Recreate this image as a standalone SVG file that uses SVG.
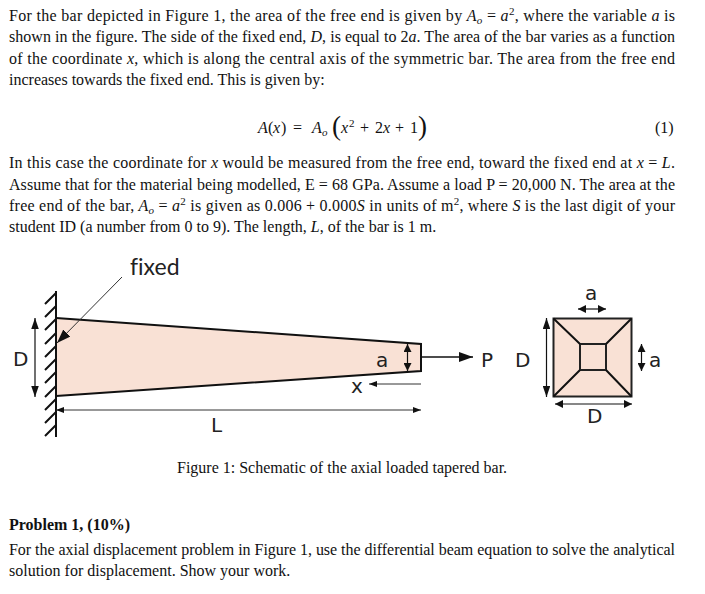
<svg xmlns="http://www.w3.org/2000/svg" width="705" height="594" viewBox="0 0 705 594">
<style>
text{fill:#111}
.t{font:16px "Liberation Serif",serif}
.i{font-style:italic}
.s{font-size:11px}
.b{font-weight:bold}
.g{font:23px "Lato","Open Sans",sans-serif;fill:#222;font-variant-ligatures:none}
.d{font:20px "DejaVu Sans",sans-serif;fill:#222}
.bar{fill:#f9e1d5;stroke:none}
.ln{stroke:#111;stroke-width:2;fill:none}
.sq{fill:#f9e1d5;stroke:#222;stroke-width:2}
.ar{stroke:#111;stroke-width:1.2;fill:none;marker-end:url(#h);marker-start:url(#hs)}
.ar3{stroke:#111;stroke-width:1.2;fill:none;marker-end:url(#m);marker-start:url(#ms)}
.ar1{stroke:#333;stroke-width:1;fill:none;marker-end:url(#n)}
.ar2{stroke:#111;stroke-width:1.6;fill:none;marker-end:url(#hb)}
</style>
<defs>
<marker id="h" viewBox="0 0 10 8" refX="10" refY="4" markerWidth="11" markerHeight="7.5" markerUnits="userSpaceOnUse" orient="auto" preserveAspectRatio="none"><path d="M0 0L10 4L0 8z" fill="#111"/></marker>
<marker id="hs" viewBox="0 0 10 8" refX="0" refY="4" markerWidth="11" markerHeight="7.5" markerUnits="userSpaceOnUse" orient="auto" preserveAspectRatio="none"><path d="M10 0L0 4L10 8z" fill="#111"/></marker>
<marker id="m" viewBox="0 0 10 8" refX="10" refY="4" markerWidth="8" markerHeight="8" markerUnits="userSpaceOnUse" orient="auto" preserveAspectRatio="none"><path d="M0 0L10 4L0 8z" fill="#111"/></marker>
<marker id="ms" viewBox="0 0 10 8" refX="0" refY="4" markerWidth="8" markerHeight="8" markerUnits="userSpaceOnUse" orient="auto" preserveAspectRatio="none"><path d="M10 0L0 4L10 8z" fill="#111"/></marker>
<marker id="n" viewBox="0 0 10 8" refX="10" refY="4" markerWidth="8" markerHeight="6" markerUnits="userSpaceOnUse" orient="auto" preserveAspectRatio="none"><path d="M0 0L10 4L0 8z" fill="#111"/></marker>
<marker id="ns" viewBox="0 0 10 8" refX="0" refY="4" markerWidth="8" markerHeight="6" markerUnits="userSpaceOnUse" orient="auto" preserveAspectRatio="none"><path d="M10 0L0 4L10 8z" fill="#111"/></marker>
<marker id="hb" viewBox="0 0 10 8" refX="10" refY="4" markerWidth="14" markerHeight="10" markerUnits="userSpaceOnUse" orient="auto" preserveAspectRatio="none"><path d="M0 0L10 4L0 8z" fill="#111"/></marker>
</defs>

<g id="body-text" class="t">
<text x="9" y="21" textLength="666" lengthAdjust="spacing">For the bar depicted in Figure 1, the area of the free end is given by <tspan class="i">A</tspan><tspan class="i s" dy="3">o</tspan><tspan dy="-3"> = </tspan><tspan class="i">a</tspan><tspan class="s" dy="-6">2</tspan><tspan dy="6">, where the variable </tspan><tspan class="i">a</tspan> is</text>
<text x="9" y="42" textLength="666" lengthAdjust="spacing">shown in the figure. The side of the fixed end, <tspan class="i">D</tspan>, is equal to 2<tspan class="i">a</tspan>. The area of the bar varies as a function</text>
<text x="9" y="64" textLength="666" lengthAdjust="spacing">of the coordinate <tspan class="i">x</tspan>, which is along the central axis of the symmetric bar.  The area from the free end</text>
<text x="9" y="85">increases towards the fixed end. This is given by:</text>
<text y="133"><tspan x="258" class="i">A</tspan><tspan x="268">(</tspan><tspan x="273" class="i">x</tspan><tspan x="281">)</tspan><tspan x="293">=</tspan><tspan x="312" class="i">A</tspan><tspan x="322" class="i s" dy="3">o</tspan><tspan x="332" y="135" font-size="27" font-weight="100">(</tspan><tspan x="341" y="133" class="i">x</tspan><tspan x="349" y="127" class="s">2</tspan><tspan x="360" y="133">+</tspan><tspan x="375">2</tspan><tspan x="383" class="i">x</tspan><tspan x="395">+</tspan><tspan x="410">1</tspan><tspan x="418" y="135" font-size="27" font-weight="100">)</tspan></text>
<text x="655" y="133">(1)</text>
<text x="9" y="168" textLength="666" lengthAdjust="spacing">In this case the coordinate for <tspan class="i">x</tspan> would be measured from the free end, toward the fixed end at <tspan class="i">x</tspan> = <tspan class="i">L</tspan>.</text>
<text x="9" y="190" textLength="666" lengthAdjust="spacing">Assume that for the material being modelled, E = 68 GPa. Assume a load P = 20,000 N. The area at the</text>
<text x="9" y="211" textLength="666" lengthAdjust="spacing">free end of the bar, <tspan class="i">A</tspan><tspan class="i s" dy="3">o</tspan><tspan dy="-3"> = </tspan><tspan class="i">a</tspan><tspan class="s" dy="-6">2</tspan><tspan dy="6"> is given as 0.006 + 0.000</tspan><tspan class="i">S</tspan> in units of m<tspan class="s" dy="-6">2</tspan><tspan dy="6">, where </tspan><tspan class="i">S</tspan> is the last digit of your</text>
<text x="9" y="232">student ID (a number from 0 to 9). The length, <tspan class="i">L</tspan>, of the bar is 1 m.</text>
<text x="177" y="473">Figure 1: Schematic of the axial loaded tapered bar.</text>
<text x="9" y="530" class="b">Problem 1, (10%)</text>
<text x="9" y="555" textLength="666" lengthAdjust="spacing">For the axial displacement problem in Figure 1, use the differential beam equation to solve the analytical</text>
<text x="9" y="576">solution for displacement. Show your work.</text>
</g>

<g id="bar">
<path class="bar" d="M56 318L421 344V371L56 396z"/>
<path class="ln" d="M56 318L421 344V371L56 396"/>
</g>
<g id="wall">
<path class="ln" d="M56 291V437M56 293L45 304M56 306L45 317M56 319L45 330M56 333L45 344M56 346L45 357M56 359L45 370M56 372L45 383M56 386L45 397M56 399L45 410M56 412L45 423M56 425L45 436"/>
</g>
<g id="square">
<rect class="sq" x="553.5" y="318.5" width="78" height="78"/>
<rect class="sq" x="580" y="344" width="26" height="26"/>
<path class="ln" d="M553.5 318.5L580 344M631.5 318.5L606 344M553.5 396.5L580 370M631.5 396.5L606 370"/>
</g>

<g id="connectors">
<path class="ar1" d="M122 277L57 343" style="marker-end:url(#hb)"/>
<path class="ar" d="M35 318V397"/>
<path class="ar1" d="M421 410H56" style="marker-start:url(#ns)"/>
<path class="ar3" d="M407.5 344V371"/>
<path class="ar2" d="M421 357H473"/>
<path class="ar1" d="M421 384H369"/>
<path class="ar" d="M546.5 318V397"/>
<path class="ar3" d="M578 309H606"/>
<path class="ar3" d="M555 404H632"/>
<path class="ar3" d="M641.5 344V371"/>
</g>

<g id="labels">
<text class="g" x="130" y="275">fixed</text>
<text class="d" x="13" y="366">D</text>
<text class="d" x="376" y="367">a</text>
<text class="d" x="481" y="367">P</text>
<text class="d" x="515" y="367">D</text>
<text class="d" x="351" y="393">x</text>
<text class="d" x="211" y="432">L</text>
<text class="d" x="585" y="300">a</text>
<text class="d" x="649" y="367">a</text>
<text class="d" x="587" y="423">D</text>
</g>
</svg>
